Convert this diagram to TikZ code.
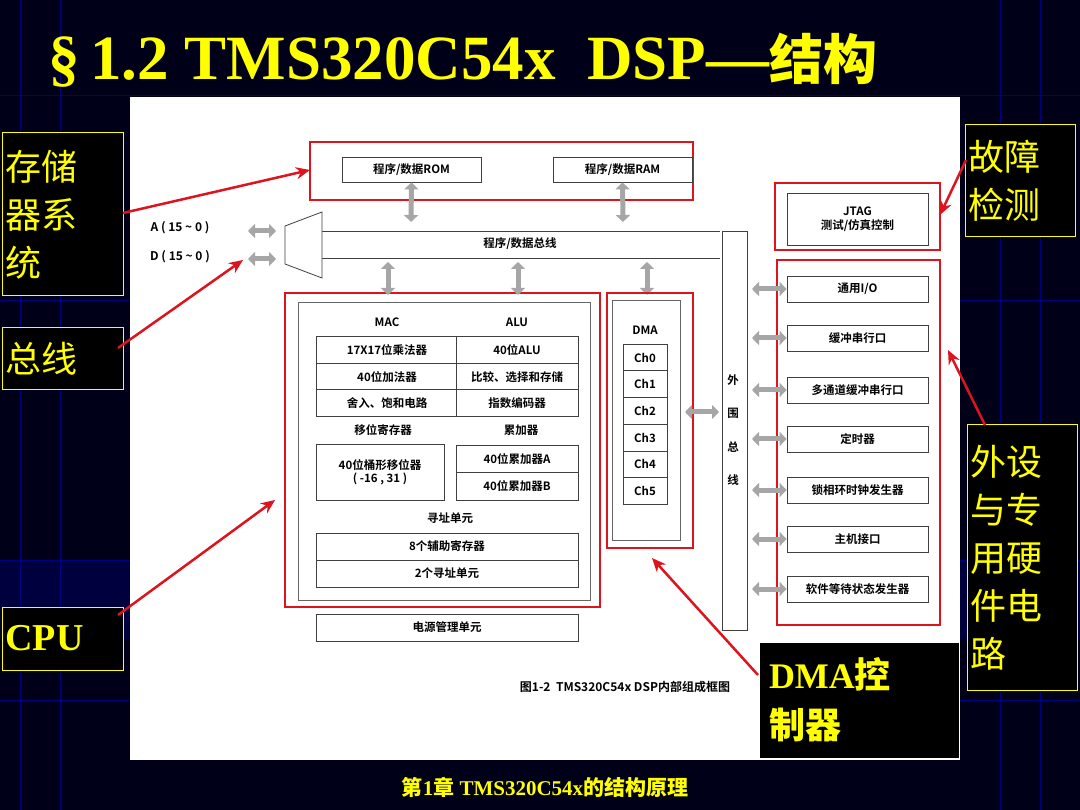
\documentclass[tikz,border=0pt]{standalone}
\usepackage{fontspec}
\setmainfont{Liberation Serif}
\newfontfamily\cjk{Noto Sans CJK SC}
\newfontfamily\cjkb{Noto Sans CJK SC Bold}
\usetikzlibrary{arrows.meta,positioning}
\definecolor{ylw}{RGB}{255,255,0}
\definecolor{redl}{RGB}{220,20,30}
\tikzset{
 box/.style={draw=black!75,line width=0.8pt,inner sep=0pt,font=\cjkb\fontsize{11.5}{13}\selectfont,fill=white},
 redbox/.style={draw=redl,line width=2.5pt},
 lbl/.style={draw=ylw,line width=1pt,fill=black,text=ylw,inner sep=0pt,font=\cjk\fontsize{36}{48}\selectfont},
 redarrow/.style={draw=redl,line width=2.5pt,-{Stealth[length=14pt,width=12pt]}},
 garrow/.style={draw=gray!70,line width=5pt,{Triangle[length=7pt,width=14pt]}-{Triangle[length=7pt,width=14pt]}},
 txt/.style={font=\cjkb\fontsize{11.5}{13}\selectfont,inner sep=0pt}
}
\begin{document}
\begin{tikzpicture}[x=1pt,y=-1pt]
\useasboundingbox (0,0) rectangle (1080,810);
\fill[black!90!blue] (0,0) rectangle (1080,810);
\fill[blue!40!black,opacity=0.5] (0,560) rectangle (1080,640);
\foreach \x in {20,60,1000,1040} \draw[blue!50!black,line width=0.6pt] (\x,0)--(\x,810);
\foreach \y in {95,300,560,700} \draw[blue!50!black,line width=0.6pt] (0,\y)--(1080,\y);
\fill[white] (130,97) rectangle (960,760);
% title
\node[anchor=west,text=ylw,font=\bfseries\fontsize{63}{66}\selectfont,inner sep=0pt] (title) at (48,60) {§\,1.2 TMS320C54x\ \ DSP—{\cjkb\fontsize{54}{60}\selectfont 结构}};
% memory
\draw[redbox] (310,142) rectangle (693,200);
\node[box,minimum width=139pt,minimum height=25pt] (rom) at (411.5,169.5) {程序/数据ROM};
\node[box,minimum width=139pt,minimum height=25pt] (ram) at (622.5,169.5) {程序/数据RAM};
% bus
\draw[black!75,line width=0.8pt] (322,231) -- (720,231) (322,258) -- (720,258);
\draw[black!75,line width=0.8pt,fill=white] (285,226) -- (322,212) -- (322,278) -- (285,264) -- cycle;
\node[txt] (busl) at (520,244) {程序/数据总线};
\coordinate (busT1) at (411,222); \coordinate (busT2) at (623,222);
\draw[garrow] (rom.south) -- (busT1);
\draw[garrow] (ram.south) -- (busT2);
\node[txt,font=\cjkb\fontsize{12}{13}\selectfont] (A) at (180,228) {A ( 15 \textasciitilde\ 0 )};
\node[txt,font=\cjkb\fontsize{12}{13}\selectfont] (D) at (180,257) {D ( 15 \textasciitilde\ 0 )};
\coordinate (a1) at (248,231); \coordinate (a2) at (276,231);
\coordinate (d1) at (248,259); \coordinate (d2) at (276,259);
\draw[garrow] (a1)--(a2); \draw[garrow] (d1)--(d2);
% CPU
\draw[redbox] (285,293) rectangle (600,607);
\draw[black!60,line width=0.8pt] (298,302) rectangle (590,600);
\coordinate (b1) at (388,262); \coordinate (b2) at (518,262); \coordinate (b3) at (647,262);
\coordinate (c1) at (388,295); \coordinate (c2) at (518,295); \coordinate (c3) at (647,295);
\draw[garrow] (b1)--(c1); \draw[garrow] (b2)--(c2); \draw[garrow] (b3)--(c3);
\node[txt] (mac) at (387,322) {MAC};
\node[txt] (alu) at (517,322) {ALU};
\foreach \t/\y/\n in {17X17位乘法器/350/m1,40位加法器/377/m2,舍入、饱和电路/403/m3}
  \node[box,minimum width=142pt,minimum height=26.7pt] (\n) at (387,\y) {\t};
\foreach \t/\y/\n in {40位ALU/350/u1,比较、选择和存储/377/u2,指数编码器/403/u3}
  \node[box,minimum width=122pt,minimum height=26.7pt] (\n) at (517,\y) {\t};
\node[txt] (shl) at (383,430) {移位寄存器};
\node[txt] (accl) at (521,430) {累加器};
\node[box,minimum width=128pt,minimum height=56pt,align=center] (barrel) at (380,472) {40位桶形移位器\\( -16 , 31 )};
\node[box,minimum width=122pt,minimum height=27.5pt] (accA) at (517,458.75) {40位累加器A};
\node[box,minimum width=122pt,minimum height=27.5pt] (accB) at (517,486.25) {40位累加器B};
\node[txt] (addrl) at (450,518) {寻址单元};
\node[box,minimum width=262pt,minimum height=27pt] (ar8) at (447,546.5) {8个辅助寄存器};
\node[box,minimum width=262pt,minimum height=27pt] (au2) at (447,573.5) {2个寻址单元};
\node[box,minimum width=262pt,minimum height=27pt] (pwr) at (447,627.5) {电源管理单元};
% DMA
\draw[redbox] (607,293) rectangle (693,548);
\draw[black!60,line width=0.8pt] (612,300) rectangle (680,540);
\node[txt] (dma) at (645,330) {DMA};
\foreach \i in {0,...,5}
  \node[box,minimum width=44pt,minimum height=26.7pt] (ch\i) at (645,{357.5+26.7*\i}) {Ch\i};
% peripheral bus
\node[draw=black!75,line width=0.8pt,minimum width=25pt,minimum height=399pt,inner sep=0pt] (pbus) at (734.5,430.5) {};
\foreach \t/\y in {外/380,围/413,总/447,线/480} \node[txt] at (733,\y) {\t};
\coordinate (dmaR) at (685,412); \coordinate (pbL) at (719,412);
\draw[garrow] (dmaR)--(pbL);
% JTAG
\draw[redbox] (775,183) rectangle (940,250);
\node[box,minimum width=141pt,minimum height=52pt,align=center,font=\cjkb\fontsize{11.5}{14}\selectfont] (jtag) at (857.5,219) {JTAG\\测试/仿真控制};
% peripherals
\draw[redbox] (777,260) rectangle (940,625);
\foreach \t/\y/\n in {{通用I/O}/289/p1,缓冲串行口/338/p2,多通道缓冲串行口/390/p3,定时器/439/p4,锁相环时钟发生器/490/p5,主机接口/539/p6,软件等待状态发生器/589/p7}{
  \node[box,minimum width=141pt,minimum height=26pt] (\n) at (857.5,\y) {\t};
  \coordinate (\n L) at (752,\y);
  \draw[garrow] (\n L) -- (\n.west);
}
\node[txt,font=\cjkb\fontsize{12}{13}\selectfont] (cap) at (625,687) {图1-2\ \ TMS320C54x DSP内部组成框图};
% labels
\node[lbl,minimum width=121pt,minimum height=163pt,align=left,text width=114pt] (Lmem) at (62.5,214.5) {存储\\器系\\统};
\node[lbl,minimum width=121pt,minimum height=62pt,align=left,text width=114pt] (Lbus) at (62.5,359) {总线};
\node[lbl,minimum width=121pt,minimum height=63pt,align=left,text width=114pt,font=\bfseries\fontsize{38}{40}\selectfont] (Lcpu) at (62.5,638.5) {CPU};
\node[lbl,minimum width=110pt,minimum height=112pt,align=left,text width=104pt] (Lfault) at (1020,181) {故障\\检测};
\node[lbl,minimum width=110pt,minimum height=265pt,align=left,text width=104pt] (Lper) at (1022,557.5) {外设\\与专\\用硬\\件电\\路};
\node[lbl,draw=black,minimum width=198pt,minimum height=114pt,align=left,text width=180pt,font=\bfseries\fontsize{36}{50}\selectfont] (Ldma) at (859,700) {DMA{\cjk 控}\\{\cjk 制器}};
% red arrows
\coordinate (r1s) at (123,213); \coordinate (r1e) at (310,170);
\draw[redarrow] (r1s) -- (r1e);
\coordinate (r2s) at (118,348); \coordinate (r2e) at (243,260);
\draw[redarrow] (r2s) -- (r2e);
\coordinate (r3s) at (118,615); \coordinate (r3e) at (275,500);
\draw[redarrow] (r3s) -- (r3e);
\coordinate (r4s) at (758,675); \coordinate (r4e) at (652,558);
\draw[redarrow] (r4s) -- (r4e);
\coordinate (r5s) at (966,160); \coordinate (r5e) at (940,215);
\draw[redarrow] (r5s) -- (r5e);
\coordinate (r6s) at (985,425); \coordinate (r6e) at (948,350);
\draw[redarrow] (r6s) -- (r6e);
% footer
\node[text=ylw,font=\bfseries\fontsize{21}{24}\selectfont,inner sep=0pt] (foot) at (545,787) {{\cjkb 第}1{\cjkb 章} TMS320C54x{\cjkb 的结构原理}};
\end{tikzpicture}
\end{document}
